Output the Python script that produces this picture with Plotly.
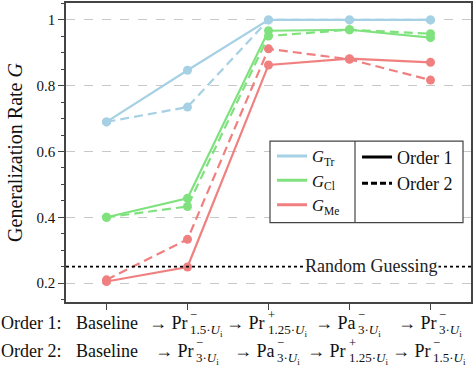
import plotly.graph_objects as go

# ---------------- data ----------------
steps = [0, 1, 2, 3, 4]
g_tr_order1 = [0.690, 0.847, 1.000, 1.000, 1.000]
g_tr_order2 = [0.690, 0.735, 1.000, 1.000, 1.000]
g_cl_order1 = [0.400, 0.458, 0.967, 0.970, 0.946]
g_cl_order2 = [0.400, 0.433, 0.951, 0.970, 0.958]
g_me_order1 = [0.205, 0.249, 0.863, 0.882, 0.871]
g_me_order2 = [0.210, 0.333, 0.912, 0.880, 0.817]
random_guess = 0.25

y_tickvals = [0.2, 0.4, 0.6, 0.8, 1.0]
y_ticktext = ["0.2", "0.4", "0.6", "0.8", "1"]

# x labels: (main, superscript, subscript)
order1_labels = [("Baseline", "", ""),
                 ("→ Pr", "−", "1.5·<i>U</i><sub>i</sub>"),
                 ("→ Pr", "+", "1.25·<i>U</i><sub>i</sub>"),
                 ("→ Pa", "−", "3·<i>U</i><sub>i</sub>"),
                 ("→ Pr", "−", "3·<i>U</i><sub>i</sub>")]
order2_labels = [("Baseline", "", ""),
                 ("→ Pr", "−", "3·<i>U</i><sub>i</sub>"),
                 ("→ Pa", "−", "3·<i>U</i><sub>i</sub>"),
                 ("→ Pr", "+", "1.25·<i>U</i><sub>i</sub>"),
                 ("→ Pr", "−", "1.5·<i>U</i><sub>i</sub>")]

metric_names = ["<i>G</i><sub>Tr</sub>", "<i>G</i><sub>Cl</sub>", "<i>G</i><sub>Me</sub>"]
colors = ["#a6d0e4", "#80e27e", "#f08080"]
series = [(g_tr_order1, g_tr_order2), (g_cl_order1, g_cl_order2), (g_me_order1, g_me_order2)]

FONT = "Liberation Serif"
fig = go.Figure()

for (s1, s2), col in zip(series, colors):
    fig.add_trace(go.Scatter(x=steps, y=s1, mode="lines+markers",
                             line=dict(color=col, width=2.2),
                             marker=dict(color=col, size=9),
                             showlegend=False))
    fig.add_trace(go.Scatter(x=steps, y=s2, mode="lines+markers",
                             line=dict(color=col, width=2.2, dash="9px,5px"),
                             marker=dict(color=col, size=9),
                             showlegend=False))

# legend entries
for name, col in zip(metric_names, colors):
    fig.add_trace(go.Scatter(x=[None], y=[None], mode="lines", name=name,
                             line=dict(color=col, width=3), legend="legend"))
fig.add_trace(go.Scatter(x=[None], y=[None], mode="lines", name="Order 1",
                         line=dict(color="black", width=3), legend="legend2"))
fig.add_trace(go.Scatter(x=[None], y=[None], mode="lines", name="Order 2",
                         line=dict(color="black", width=3, dash="6px,3px"), legend="legend2"))

# random guessing line
fig.add_shape(type="line", xref="paper", x0=0, x1=1, yref="y", y0=random_guess, y1=random_guess,
              line=dict(color="black", width=1.6, dash="dot"))
fig.add_annotation(x=3.27, y=random_guess, xref="x", yref="y", text="Random Guessing",
                   showarrow=False, font=dict(family=FONT, size=18, color="#222"),
                   bgcolor="white", borderpad=0, yshift=1)

# legend box + divider
lx0, lx1, lxm = (270 - 66) / 405, (463 - 66) / 405, (355 - 66) / 405
ly0, ly1 = (302 - 222) / 301, (302 - 140) / 301
fig.add_shape(type="rect", xref="paper", yref="paper", x0=lx0, x1=lx1, y0=ly0, y1=ly1,
              line=dict(color="#444", width=1.2), fillcolor="white", layer="above")
fig.add_shape(type="line", xref="paper", yref="paper", x0=lxm, x1=lxm, y0=ly0, y1=ly1,
              line=dict(color="#444", width=1.2), layer="above")

# x labels
def add_label_row(labels, yshift):
    main_w = 36
    for i, (main, sup, sub) in enumerate(labels):
        if not sup:
            fig.add_annotation(x=steps[i], y=0, xref="x", yref="paper", text=main,
                               showarrow=False, xanchor="center", yanchor="middle",
                               yshift=yshift, font=dict(family=FONT, size=18, color="#111"))
            continue
        plain = sub.replace("<i>", "").replace("</i>", "").replace("<sub>", "").replace("</sub>", "")
        script_w = 6.4 * (len(plain) - 1) + 2
        off = (main_w - script_w) / 2
        fig.add_annotation(x=steps[i], y=0, xref="x", yref="paper", text=main,
                           showarrow=False, xanchor="right", yanchor="middle", borderpad=0,
                           xshift=off, yshift=yshift, font=dict(family=FONT, size=18, color="#111"))
        fig.add_annotation(x=steps[i], y=0, xref="x", yref="paper", text=sup,
                           showarrow=False, xanchor="left", yanchor="middle", borderpad=0,
                           xshift=off + 0.5, yshift=yshift + 8, font=dict(family=FONT, size=12.5, color="#111"))
        fig.add_annotation(x=steps[i], y=0, xref="x", yref="paper", text=sub,
                           showarrow=False, xanchor="left", yanchor="middle", borderpad=0,
                           xshift=off + 0.5, yshift=yshift - 7, font=dict(family=FONT, size=13, color="#111"))

add_label_row(order1_labels, -21)
add_label_row(order2_labels, -49)
for txt, ys in (("Order 1:", -21), ("Order 2:", -49)):
    fig.add_annotation(x=-66 / 405, y=0, xref="paper", yref="paper", text=txt,
                       showarrow=False, xanchor="left", yanchor="middle", yshift=ys,
                       borderpad=0, font=dict(family=FONT, size=18, color="#111"))

fig.update_layout(
    width=474, height=366,
    margin=dict(l=66, r=3, t=1, b=64),
    paper_bgcolor="white", plot_bgcolor="white",
    font=dict(family=FONT, size=14, color="#111"),
    legend=dict(x=lx0 + 0.005, y=ly1 + 0.008, xanchor="left", yanchor="top",
                bgcolor="rgba(0,0,0,0)", borderwidth=0,
                font=dict(family=FONT, size=16.5), tracegroupgap=0, itemwidth=30),
    legend2=dict(x=lxm + 0.005, y=ly1 + 0.008, xanchor="left", yanchor="top",
                 bgcolor="rgba(0,0,0,0)", borderwidth=0,
                 font=dict(family=FONT, size=18), tracegroupgap=0, itemwidth=30),
    xaxis=dict(range=[-0.5, 4.5], tickvals=steps, showticklabels=False, ticks="outside",
               ticklen=6, tickcolor="#444", showgrid=False, zeroline=False,
               showline=True, mirror=True, linecolor="#444", linewidth=1.6),
    yaxis=dict(range=[0.1426, 1.0513], tickvals=y_tickvals, ticktext=y_ticktext,
               ticks="outside", ticklen=6, tickcolor="#444",
               tickfont=dict(family=FONT, size=15),
               showgrid=True, gridcolor="#c8c8c8", griddash="dash", gridwidth=1,
               zeroline=False, showline=True, mirror=True, linecolor="#444", linewidth=1.6,
               minor=dict(ticks="outside", ticklen=3, tickcolor="#444", dtick=0.05, tick0=0,
                          showgrid=False),
               title=dict(text="Generalization Rate <i>G</i>", font=dict(family=FONT, size=20),
                          standoff=8)),
)

fig.write_html("out.html", config={"displayModeBar": False},
               post_script="document.body.style.margin='0';")
